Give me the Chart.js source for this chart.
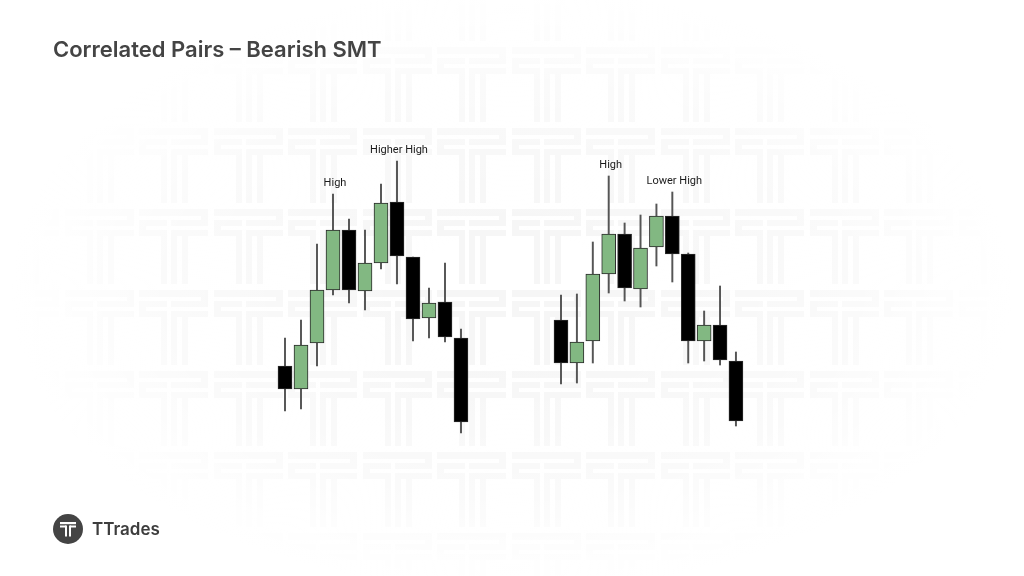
<!DOCTYPE html>
<html>
<head>
<meta charset="utf-8">
<script src="https://cdn.jsdelivr.net/npm/chart.js@4"></script>
<style>
  html, body { margin: 0; padding: 0; background: #fff; }
  #wrap { position: relative; width: 1024px; height: 576px; overflow: hidden; }
  #smt-chart { position: absolute; left: 0; top: 0; }
  #title {
    position: absolute; left: 53px; top: 36px;
    font-family: Inter, "Open Sans", sans-serif; font-weight: 600; font-size: 22px;
    color: #444;
  }
  #brand {
    position: absolute; left: 53px; top: 514px; height: 30px;
    display: flex; align-items: center;
    font-family: Inter, "Open Sans", sans-serif; font-weight: 600; font-size: 17px; color: #3d3d3d;
  }
  #brand svg { margin-right: 9px; }
</style>
</head>
<body>
<div id="wrap">
  <canvas id="smt-chart" width="1024" height="576"></canvas>
  <div id="title">Correlated Pairs – Bearish SMT</div>
  <div id="brand">
    <svg width="30" height="30" viewBox="0 0 30 30">
      <circle cx="15" cy="15" r="15" fill="#444"/>
      <rect x="7" y="8" width="16" height="2.2" fill="#fff"/>
      <rect x="7" y="11.5" width="6" height="2" fill="#fff"/>
      <rect x="17" y="11.5" width="6" height="2" fill="#fff"/>
      <rect x="12" y="11.5" width="2" height="11" fill="#fff"/>
      <rect x="16" y="11.5" width="2" height="11" fill="#fff"/>
    </svg>
    TTrades
  </div>
</div>
<script>
// left pair (first instrument) - open / high / low / close
const leftOpen  = [210, 187, 233, 286, 346, 285, 313, 374, 319, 258, 274, 238];
const leftHigh  = [238, 256, 332, 382, 357, 346, 392, 415, 319, 288, 313, 247];
const leftLow   = [165, 167, 210, 281, 273, 266, 307, 292, 235, 238, 234, 143];
const leftClose = [187, 231, 286, 346, 286, 313, 373, 320, 257, 273, 239, 154];

// right pair (second instrument)
const rightOpen  = [256, 213, 235, 302, 342, 287, 329, 360, 322, 235, 251, 215];
const rightHigh  = [281, 282, 334, 400, 353, 361, 372, 384, 323, 265, 290, 224];
const rightLow   = [192, 193, 213, 283, 275, 269, 310, 294, 213, 215, 211, 150];
const rightClose = [213, 234, 302, 342, 288, 328, 360, 322, 235, 251, 216, 155];

// slot where the second pair starts
const rightStart = 17.25;

// swing labels: [pair, candle index, text]
const swingLabels = [
  ['left', 3, 'High'],
  ['left', 7, 'Higher High'],
  ['right', 3, 'High'],
  ['right', 7, 'Lower High'],
];

const bull = '#82b882';
const bear = '#000000';

function buildCandles(open, high, low, close, offset) {
  return open.map((o, i) => ({
    x: offset + i * (offset ? 0.994 : 1),
    o, h: high[i], l: low[i], c: close[i],
  }));
}

const candles = [
  ...buildCandles(leftOpen, leftHigh, leftLow, leftClose, 0),
  ...buildCandles(rightOpen, rightHigh, rightLow, rightClose, rightStart),
];

const bodies = candles.map(k => ({ x: k.x, y: [Math.min(k.o, k.c), Math.max(k.o, k.c)] }));
const wicks = candles.map(k => ({ x: k.x, y: [k.l, k.h] }));
const bodyColors = candles.map(k => (k.c >= k.o ? bull : bear));

// one tile of the faint logo watermark, local to the tile corner
const tileRects = [
  [0, 0, 69, 7], [62, 0, 7, 17],
  [0, 11, 28, 6], [32, 11, 30, 6],
  [0, 11, 7, 16], [7, 21, 21, 6], [32, 21, 37, 6],
  [22, 21, 6, 54], [32, 21, 6, 54], [43, 27, 6, 48],
];

const watermark = {
  id: 'watermark',
  beforeDraw(chart) {
    const { ctx, width, height } = chart;
    ctx.save();
    ctx.fillStyle = '#f6f6f6';
    for (let ty = -34; ty < height; ty += 81) {
      for (let tx = -10; tx < width; tx += 74.5) {
        tileRects.forEach(([rx, ry, rw, rh]) => ctx.fillRect(Math.round(tx + rx), ty + ry, rw, rh));
      }
    }
    // fade out towards the edges
    const g = ctx.createRadialGradient(512, 290, 100, 512, 290, 500);
    g.addColorStop(0, 'rgba(255,255,255,0)');
    g.addColorStop(0.6, 'rgba(255,255,255,0.45)');
    g.addColorStop(0.9, 'rgba(255,255,255,0.9)');
    g.addColorStop(1, 'rgba(255,255,255,1)');
    ctx.setTransform(1, 0, 0, 0.6, 0, 290 * 0.4);
    ctx.fillStyle = g;
    ctx.fillRect(0, -300, width, height / 0.6 + 300);
    ctx.restore();
  },
};

const labelPlugin = {
  id: 'swingLabels',
  afterDatasetsDraw(chart) {
    const { ctx, scales } = chart;
    ctx.save();
    ctx.font = '11px Roboto, sans-serif';
    ctx.fillStyle = '#1a1a1a';
    ctx.textAlign = 'center';
    ctx.textBaseline = 'middle';
    swingLabels.forEach(([pair, idx, text]) => {
      const k = candles[(pair === 'left' ? 0 : leftOpen.length) + idx];
      const px = scales.x.getPixelForValue(k.x);
      const py = scales.y.getPixelForValue(k.h);
      ctx.fillText(text, px + 2, py - 11);
    });
    ctx.restore();
  },
};

const config = {
  type: 'bar',
  data: {
    datasets: [
      {
        label: 'bodies',
        data: bodies,
        backgroundColor: bodyColors,
        borderColor: '#2a2a2a',
        borderWidth: 1,
        borderSkipped: false,
        barThickness: 14,
        order: 0,
      },
      {
        label: 'wicks',
        data: wicks,
        backgroundColor: '#555',
        barThickness: 1.3,
        order: 1,
      },
    ],
  },
  options: {
    responsive: false,
    animation: false,
    devicePixelRatio: 1,
    layout: { padding: 0 },
    scales: {
      x: { type: 'linear', min: -17.8125, max: 46.1875, offset: false, stacked: true, display: false },
      y: { min: 0, max: 576, stacked: false, display: false },
    },
    plugins: {
      legend: { display: false },
      tooltip: { enabled: false },
    },
  },
  plugins: [watermark, labelPlugin],
};

new Chart(document.querySelector('#smt-chart'), config);
</script>
</body>
</html>
